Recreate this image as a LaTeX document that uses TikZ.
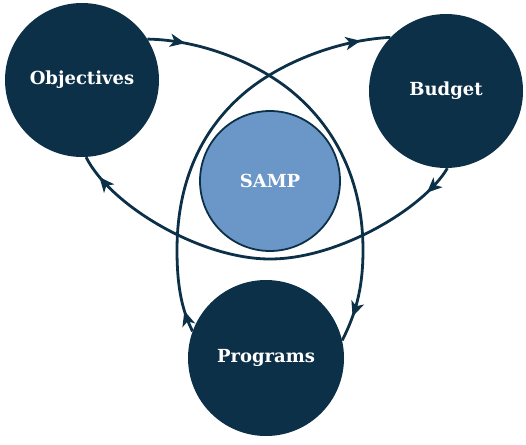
\documentclass[tikz,border=0pt]{standalone}
\usepackage{fontspec}
\setmainfont{DejaVu Serif}
\usetikzlibrary{arrows.meta,decorations.markings}
\definecolor{navy}{RGB}{12,48,72}
\definecolor{sampblue}{RGB}{106,150,200}
\begin{document}
\begin{tikzpicture}[x=1pt,y=-1pt,
  bigc/.style={circle,fill=navy,draw=none,minimum size=154pt,inner sep=0pt,text=white,font=\bfseries\fontsize{18pt}{20pt}\selectfont},
  sampc/.style={circle,fill=sampblue,draw=navy,line width=1.8pt,minimum size=140pt,inner sep=0pt,text=white,font=\bfseries\fontsize{18pt}{20pt}\selectfont},
  conn/.style 2 args={draw=navy,line width=2.8pt,postaction={decorate},
    decoration={markings,
      mark=at position #1 with {\arrow{Stealth[length=15pt,width=13pt,inset=4pt]}},
      mark=at position #2 with {\arrow{Stealth[length=15pt,width=13pt,inset=4pt]}}}}
]
\useasboundingbox (0,0) rectangle (526,444);
\node[bigc] (obj) at (82,80) {Objectives};
\node[bigc] (bud) at (446,91) {Budget};
\node[bigc,minimum size=156pt] (prog) at (266,358) {Programs};
\node[sampc] (samp) at (270,181) {SAMP};

\draw[conn={38pt}{-26pt}] (obj.32) .. controls (200,40) and (255,62) .. (290,90)
   .. controls (342,132) and (363,190) .. (363,250)
   .. controls (363,290) and (355,315) .. (prog.13);
\draw[conn={22pt}{-30pt}] (prog.160) .. controls (183,312) and (177,290) .. (177,250)
   .. controls (177,190) and (196,132) .. (248,90)
   .. controls (283,62) and (338,40) .. (bud.136);
\draw[conn={32pt}{-24pt}] (bud.-89) .. controls (425,207) and (340,259) .. (270,259)
   .. controls (200,259) and (110,205) .. (obj.-87);
\end{tikzpicture}
\end{document}
